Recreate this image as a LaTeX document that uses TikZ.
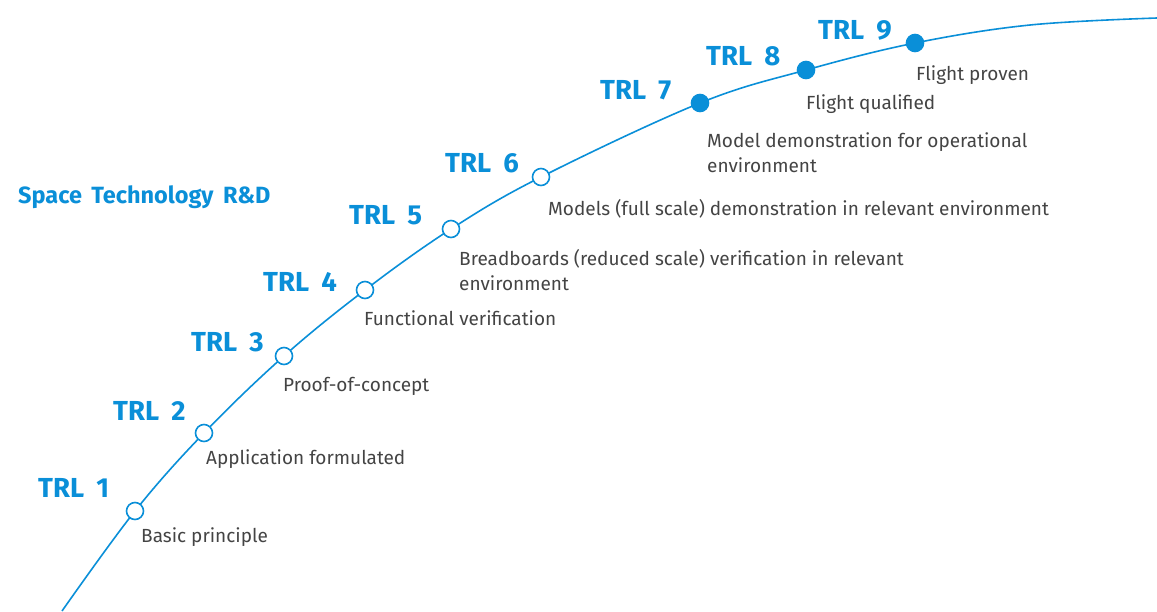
\documentclass[tikz,border=0pt]{standalone}
\usepackage{fontspec}
\setmainfont{Fira Sans}
\definecolor{esablue}{HTML}{0A8FD8}
\definecolor{txt}{HTML}{444444}
\begin{document}
\begin{tikzpicture}[x=1pt,y=-1pt,
  trl/.style={anchor=west,inner sep=0pt,text=esablue,font=\fontsize{27.5}{28}\selectfont\bfseries},
  desc/.style={anchor=west,inner sep=0pt,text=txt,font=\fontsize{19}{25}\selectfont,align=left},
  open/.style={circle,draw=esablue,line width=1.6pt,fill=white,minimum size=17pt,inner sep=0pt},
  full/.style={circle,draw=esablue,line width=1.6pt,fill=esablue,minimum size=17pt,inner sep=0pt}]
\useasboundingbox (0,0) rectangle (1157,611);
\draw[esablue,line width=1.6pt] plot[smooth,tension=0.6] coordinates{(62,611) (135,511) (204,433) (284,356) (365,290) (451,229) (541,177) (700,103) (806,70) (915,43) (1030,25) (1157,18)};
\node[open] (c1) at (135,511) {};
\node[open] (c2) at (204,433) {};
\node[open] (c3) at (284,356) {};
\node[open] (c4) at (365,290) {};
\node[open] (c5) at (451,229) {};
\node[open] (c6) at (541,177) {};
\node[full] (c7) at (700,103) {};
\node[full] (c8) at (806,70) {};
\node[full] (c9) at (915,43) {};
\node[trl] (t1) at (38,488) {TRL\hspace{0.45em}1};
\node[trl] (t2) at (113,411) {TRL\hspace{0.45em}2};
\node[trl] (t3) at (191,342) {TRL\hspace{0.45em}3};
\node[trl] (t4) at (263,282) {TRL\hspace{0.45em}4};
\node[trl] (t5) at (349,215) {TRL\hspace{0.45em}5};
\node[trl] (t6) at (445,163) {TRL\hspace{0.45em}6};
\node[trl] (t7) at (600,90) {TRL\hspace{0.45em}7};
\node[trl] (t8) at (706,56) {TRL\hspace{0.45em}8};
\node[trl] (t9) at (818,30) {TRL\hspace{0.45em}9};
\node[desc] (d1) at (141,537) {Basic principle};
\node[desc] (d2) at (206,459) {Application formulated};
\node[desc] (d3) at (283,386) {Proof-of-concept};
\node[desc] (d4) at (364,318) {Functional verification};
\node[desc] (d5) at (459,270) {Breadboards (reduced scale) verification in relevant\\environment};
\node[desc] (d6) at (548,209) {Models (full scale) demonstration in relevant environment};
\node[desc] (d7) at (707,153) {Model demonstration for operational\\environment};
\node[desc] (d8) at (806,104) {Flight qualified};
\node[desc] (d9) at (916,75) {Flight proven};
\node[anchor=west,inner sep=0pt,text=esablue,font=\fontsize{23.5}{24}\selectfont\bfseries] (title) at (18,197) {Space\hspace{0.4em}Technology\hspace{0.4em}R\&D};
\end{tikzpicture}
\end{document}
